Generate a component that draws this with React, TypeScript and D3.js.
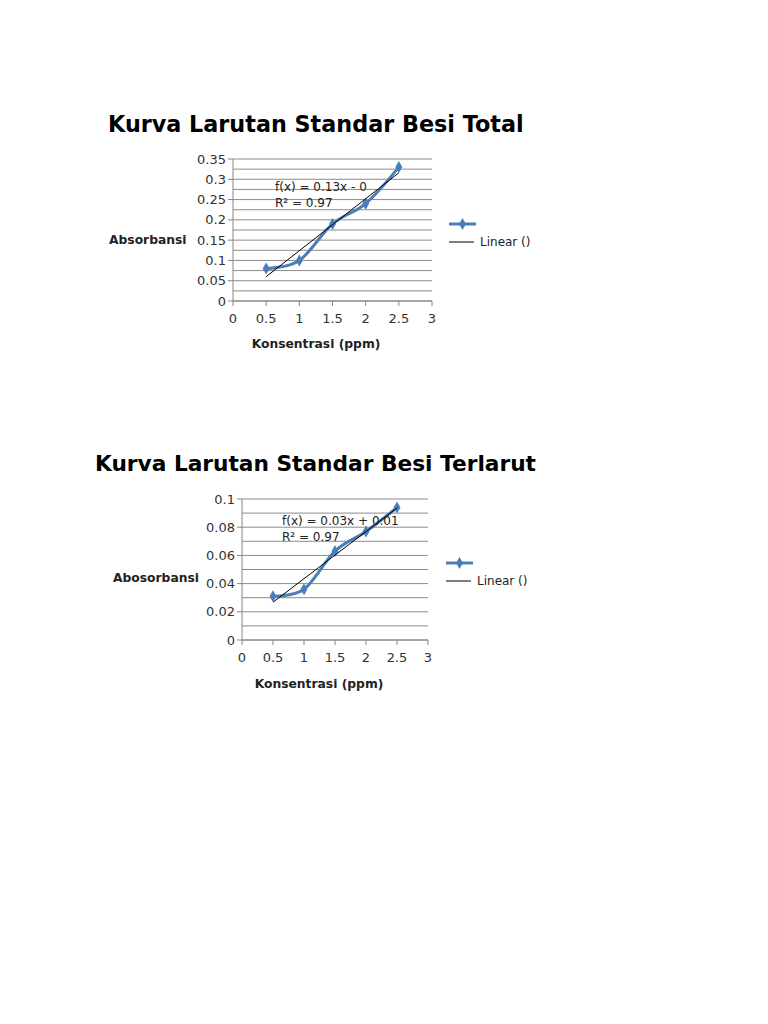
import React from 'react'
import * as d3 from 'd3'

// concentrations (ppm) shared by both standard curves
const concentrations = [0.5, 1, 1.5, 2, 2.5]
const absTotal = [0.08, 0.1, 0.19, 0.24, 0.33]
const absTerlarut = [0.031, 0.036, 0.063, 0.077, 0.094]

const xTicks = [0, 0.5, 1, 1.5, 2, 2.5, 3]
const yTicksTotal = [0, 0.05, 0.1, 0.15, 0.2, 0.25, 0.3, 0.35]
const yTicksTerlarut = [0, 0.02, 0.04, 0.06, 0.08, 0.1]

const BLUE = '#4a7ebb'
const FONT = '"DejaVu Sans", sans-serif'

type ChartCfg = {
    title: string
    titleX: number
    titleY: number
    titleSize: number
    left: number
    right: number
    top: number
    bottom: number
    yMax: number
    yMinor: number
    yTicks: number[]
    ys: number[]
    yLabel: string
    yLabelX: number
    yLabelY: number
    xLabelX: number
    xLabelY: number
    eqText: string
    eqX: number
    eqY: number
    legendX: number
    legendY: number
}

function fit(xs: number[], ys: number[]) {
    const mx = d3.mean(xs)!
    const my = d3.mean(ys)!
    let sxy = 0, sxx = 0, syy = 0
    xs.forEach((x, i) => {
        sxy += (x - mx) * (ys[i] - my)
        sxx += (x - mx) ** 2
        syy += (ys[i] - my) ** 2
    })
    const slope = sxy / sxx
    return { slope, intercept: my - slope * mx, r2: (sxy * sxy) / (sxx * syy) }
}

const fmt = (v: number) => String(+v.toFixed(3))

const Chart: React.FC<{ cfg: ChartCfg }> = ({ cfg }) => {
    const x = d3.scaleLinear().domain([0, 3]).range([cfg.left, cfg.right])
    const y = d3.scaleLinear().domain([0, cfg.yMax]).range([cfg.bottom, cfg.top])
    const grid = d3.range(0, cfg.yMax + cfg.yMinor / 2, cfg.yMinor)
    const pts = concentrations.map((c, i) => [c, cfg.ys[i]] as [number, number])
    const smooth = d3.line<[number, number]>()
        .x(d => x(d[0]))
        .y(d => y(d[1]))
        .curve(d3.curveCatmullRom.alpha(0))(pts)!
    const lr = fit(concentrations, cfg.ys)
    const x0 = concentrations[0], x1 = concentrations[concentrations.length - 1]
    const diamond = d3.symbol(d3.symbolDiamond, 42)()!

    return (
        <g fontFamily={FONT}>
            <text x={cfg.titleX} y={cfg.titleY} fontSize={cfg.titleSize} fontWeight="bold" fill="#000">{cfg.title}</text>

            {grid.map((g, i) => (
                <line key={i} x1={cfg.left} x2={cfg.right} y1={y(g)} y2={y(g)} stroke="#8c8c8c" strokeWidth={1} />
            ))}

            {/* axes */}
            <line x1={cfg.left} x2={cfg.left} y1={cfg.top} y2={cfg.bottom} stroke="#868686" />
            <line x1={cfg.left} x2={cfg.right} y1={cfg.bottom} y2={cfg.bottom} stroke="#868686" />
            {cfg.yTicks.map(t => (
                <g key={t}>
                    <line x1={cfg.left - 5} x2={cfg.left} y1={y(t)} y2={y(t)} stroke="#868686" />
                    <text x={cfg.left - 7} y={y(t)} dy="0.35em" textAnchor="end" fontSize={13} fill="#333">{fmt(t)}</text>
                </g>
            ))}
            {xTicks.map(t => (
                <g key={t}>
                    <line x1={x(t)} x2={x(t)} y1={cfg.bottom} y2={cfg.bottom + 5} stroke="#868686" />
                    <text x={x(t)} y={cfg.bottom + 22} textAnchor="middle" fontSize={13} fill="#333">{fmt(t)}</text>
                </g>
            ))}

            <text x={cfg.yLabelX} y={cfg.yLabelY} fontSize={12.3} fontWeight="bold" fill="#222">{cfg.yLabel}</text>
            <text x={cfg.xLabelX} y={cfg.xLabelY} textAnchor="middle" fontSize={12.3} fontWeight="bold" fill="#222">Konsentrasi (ppm)</text>

            {/* data */}
            <path d={smooth} fill="none" stroke={BLUE} strokeWidth={3} strokeLinejoin="round" />
            {pts.map((p, i) => (
                <path key={i} d={diamond} transform={`translate(${x(p[0])},${y(p[1])})`} fill={BLUE} />
            ))}
            <line x1={x(x0)} x2={x(x1)} y1={y(lr.intercept + lr.slope * x0)} y2={y(lr.intercept + lr.slope * x1)} stroke="#000" strokeWidth={1} />

            {/* equation */}
            <text x={cfg.eqX} y={cfg.eqY} fontSize={12} fill="#222">{cfg.eqText}</text>
            <text x={cfg.eqX} y={cfg.eqY + 16} fontSize={12} fill="#222">{`R² = ${lr.r2.toFixed(2)}`}</text>

            {/* legend */}
            <line x1={cfg.legendX} x2={cfg.legendX + 27} y1={cfg.legendY} y2={cfg.legendY} stroke={BLUE} strokeWidth={3} />
            <path d={diamond} transform={`translate(${cfg.legendX + 13.5},${cfg.legendY})`} fill={BLUE} />
            <line x1={cfg.legendX} x2={cfg.legendX + 25} y1={cfg.legendY + 18} y2={cfg.legendY + 18} stroke="#000" strokeWidth={1} />
            <text x={cfg.legendX + 31} y={cfg.legendY + 22} fontSize={12} fill="#222">Linear ()</text>
        </g>
    )
}

const charts: ChartCfg[] = [
    {
        title: 'Kurva Larutan Standar Besi Total', titleX: 108, titleY: 132, titleSize: 22.3,
        left: 233, right: 432, top: 159, bottom: 301,
        yMax: 0.35, yMinor: 0.025, yTicks: yTicksTotal, ys: absTotal,
        yLabel: 'Absorbansi', yLabelX: 109, yLabelY: 244,
        xLabelX: 316, xLabelY: 348,
        eqText: 'f(x) = 0.13x - 0', eqX: 275, eqY: 191,
        legendX: 449, legendY: 224,
    },
    {
        title: 'Kurva Larutan Standar Besi Terlarut', titleX: 95, titleY: 471, titleSize: 21.7,
        left: 242, right: 428, top: 499, bottom: 640,
        yMax: 0.1, yMinor: 0.01, yTicks: yTicksTerlarut, ys: absTerlarut,
        yLabel: 'Abosorbansi', yLabelX: 113, yLabelY: 582,
        xLabelX: 319, xLabelY: 688,
        eqText: 'f(x) = 0.03x + 0.01', eqX: 282, eqY: 525,
        legendX: 446, legendY: 563,
    },
]

export default function App() {
    return (
        <svg width={768} height={1024} style={{ position: 'absolute', left: 0, top: 0, background: '#fff' }}>
            <rect width={768} height={1024} fill="#fff" />
            {charts.map((c, i) => <Chart key={i} cfg={c} />)}
        </svg>
    )
}
